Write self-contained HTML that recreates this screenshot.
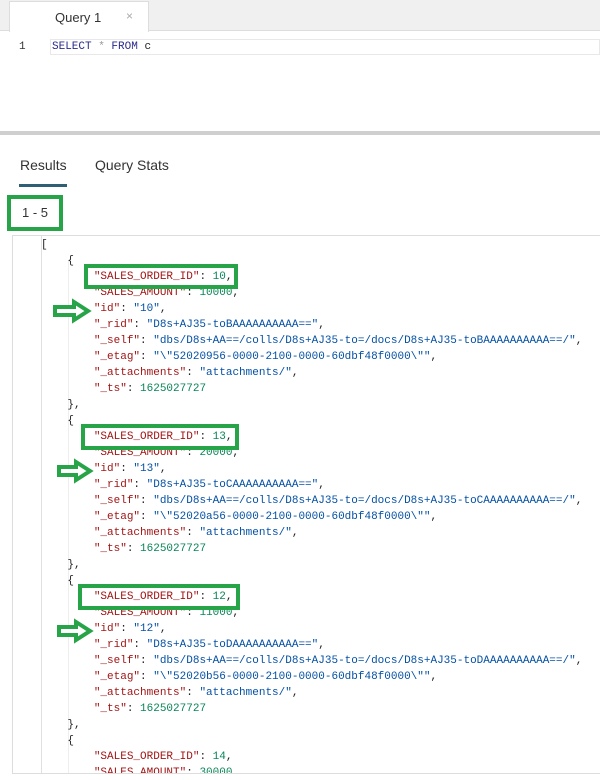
<!DOCTYPE html>
<html><head><meta charset="utf-8"><style>
*{margin:0;padding:0;box-sizing:border-box}
body{width:600px;height:780px;background:#fff;position:relative;overflow:hidden;font-family:"Liberation Sans",sans-serif}
.abs{position:absolute}
pre{font-family:"Liberation Mono",monospace;font-size:11px;line-height:16px;color:#222;white-space:pre}
.k{color:#a31515}.n{color:#098658}.s{color:#0451a5}
.box{position:absolute;border:4px solid #27a348}
</style></head><body>
<div class="abs" style="left:0;top:0;width:600px;height:31px;background:#f0f0f0;border-bottom:1px solid #ddd"></div>
<div class="abs" style="left:9px;top:1px;width:140px;height:31px;background:#fff;border:1px solid #ddd;border-bottom:none"></div>
<div class="abs" style="left:55px;top:10px;font-size:13px;color:#333">Query 1</div>
<div class="abs" style="left:126px;top:9px;font-size:12px;color:#aaa">×</div>
<div class="abs" style="left:50px;top:39px;width:550px;height:16px;border:1px solid #e8e8e8"></div>
<pre class="abs" style="left:19px;top:39px;color:#333">1</pre>
<pre class="abs" style="left:52px;top:39px;color:#2b2b8c">SELECT <span style="color:#999">*</span> FROM <span style="color:#222">c</span></pre>
<div class="abs" style="left:0;top:131px;width:600px;height:4px;background:#cfcfcf"></div>
<div class="abs" style="left:20px;top:157px;font-size:14px;color:#333">Results</div>
<div class="abs" style="left:95px;top:157px;font-size:14px;color:#333">Query Stats</div>
<div class="abs" style="left:19px;top:184px;width:48px;height:3px;background:#2d5f75"></div>
<div class="box" style="left:7px;top:195px;width:56px;height:36px"></div>
<div class="abs" style="left:22px;top:205px;font-size:13px;color:#333">1 - 5</div>
<div class="abs" style="left:12px;top:235px;width:588px;height:539px;border-top:1px solid #ddd;border-bottom:1px solid #ddd;border-left:1px solid #ddd;overflow:hidden">
<div class="abs" style="left:28px;top:0;width:1px;height:540px;background:#e0e0e0"></div>
<div class="abs" style="left:55px;top:24px;width:1px;height:520px;background:#eee"></div>
<pre class="abs" style="left:28px;top:1px">[
    {
        <span class="k">"SALES_ORDER_ID"</span>: <span class="n">10</span>,
        <span class="k">"SALES_AMOUNT"</span>: <span class="n">10000</span>,
        <span class="k">"id"</span>: <span class="s">"10"</span>,
        <span class="k">"_rid"</span>: <span class="s">"D8s+AJ35-toBAAAAAAAAAA=="</span>,
        <span class="k">"_self"</span>: <span class="s">"dbs/D8s+AA==/colls/D8s+AJ35-to=/docs/D8s+AJ35-toBAAAAAAAAAA==/"</span>,
        <span class="k">"_etag"</span>: <span class="s">"\"52020956-0000-2100-0000-60dbf48f0000\""</span>,
        <span class="k">"_attachments"</span>: <span class="s">"attachments/"</span>,
        <span class="k">"_ts"</span>: <span class="n">1625027727</span>
    },
    {
        <span class="k">"SALES_ORDER_ID"</span>: <span class="n">13</span>,
        <span class="k">"SALES_AMOUNT"</span>: <span class="n">20000</span>,
        <span class="k">"id"</span>: <span class="s">"13"</span>,
        <span class="k">"_rid"</span>: <span class="s">"D8s+AJ35-toCAAAAAAAAAA=="</span>,
        <span class="k">"_self"</span>: <span class="s">"dbs/D8s+AA==/colls/D8s+AJ35-to=/docs/D8s+AJ35-toCAAAAAAAAAA==/"</span>,
        <span class="k">"_etag"</span>: <span class="s">"\"52020a56-0000-2100-0000-60dbf48f0000\""</span>,
        <span class="k">"_attachments"</span>: <span class="s">"attachments/"</span>,
        <span class="k">"_ts"</span>: <span class="n">1625027727</span>
    },
    {
        <span class="k">"SALES_ORDER_ID"</span>: <span class="n">12</span>,
        <span class="k">"SALES_AMOUNT"</span>: <span class="n">11000</span>,
        <span class="k">"id"</span>: <span class="s">"12"</span>,
        <span class="k">"_rid"</span>: <span class="s">"D8s+AJ35-toDAAAAAAAAAA=="</span>,
        <span class="k">"_self"</span>: <span class="s">"dbs/D8s+AA==/colls/D8s+AJ35-to=/docs/D8s+AJ35-toDAAAAAAAAAA==/"</span>,
        <span class="k">"_etag"</span>: <span class="s">"\"52020b56-0000-2100-0000-60dbf48f0000\""</span>,
        <span class="k">"_attachments"</span>: <span class="s">"attachments/"</span>,
        <span class="k">"_ts"</span>: <span class="n">1625027727</span>
    },
    {
        <span class="k">"SALES_ORDER_ID"</span>: <span class="n">14</span>,
        <span class="k">"SALES_AMOUNT"</span>: <span class="n">30000</span>,
</pre>
</div>
<div class="box" style="left:84px;top:264px;width:154px;height:25px"></div>
<div class="box" style="left:81px;top:424px;width:158px;height:26px"></div>
<div class="box" style="left:78px;top:584px;width:162px;height:26px"></div>
<svg class="abs" style="left:0;top:0" width="600" height="780">
<g fill="#fff" stroke="#27a348" stroke-width="4" stroke-linejoin="miter">
<polygon points="55,307 74,307 74,302 88,311 74,320 74,315 55,315"/>
<polygon points="59,467 76,467 76,462 90,471 76,480 76,475 59,475"/>
<polygon points="59,627 76,627 76,622 90,631 76,640 76,635 59,635"/>
</g>
</svg>
</body></html>
